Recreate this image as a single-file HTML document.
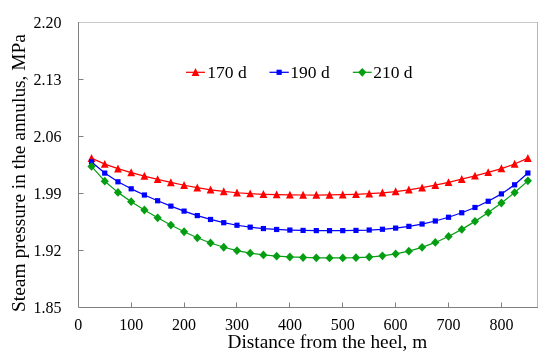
<!DOCTYPE html><html><head><meta charset="utf-8"><style>html,body{margin:0;padding:0;background:#fff;}svg{display:block;}text{font-family:"Liberation Serif","Times New Roman",serif;fill:#000;}</style></head><body>
<svg width="550" height="357" viewBox="0 0 550 357">
<rect width="550" height="357" fill="#fff"/>
<path d="M78.5 22.5H537.5" fill="none" stroke="#c8c8c8" stroke-width="1"/>
<path d="M537.5 22.0V307.5" fill="none" stroke="#b4b4b4" stroke-width="1"/>
<path d="M78.5 22.0V307.5H538.0" fill="none" stroke="#808080" stroke-width="1"/>
<text x="61.5" y="27.6" font-size="16" text-anchor="end">2.20</text>
<path d="M78.5 79.5H83.5" stroke="#808080" stroke-width="1"/>
<text x="61.5" y="84.6" font-size="16" text-anchor="end">2.13</text>
<path d="M78.5 136.5H83.5" stroke="#808080" stroke-width="1"/>
<text x="61.5" y="141.6" font-size="16" text-anchor="end">2.06</text>
<path d="M78.5 193.5H83.5" stroke="#808080" stroke-width="1"/>
<text x="61.5" y="198.6" font-size="16" text-anchor="end">1.99</text>
<path d="M78.5 250.5H83.5" stroke="#808080" stroke-width="1"/>
<text x="61.5" y="255.6" font-size="16" text-anchor="end">1.92</text>
<text x="61.5" y="312.6" font-size="16" text-anchor="end">1.85</text>
<text x="78.3" y="329.6" font-size="16" text-anchor="middle">0</text>
<path d="M131.5 307.5V302.5" stroke="#808080" stroke-width="1"/>
<text x="131.2" y="329.6" font-size="16" text-anchor="middle">100</text>
<path d="M184.5 307.5V302.5" stroke="#808080" stroke-width="1"/>
<text x="184.1" y="329.6" font-size="16" text-anchor="middle">200</text>
<path d="M236.5 307.5V302.5" stroke="#808080" stroke-width="1"/>
<text x="237.0" y="329.6" font-size="16" text-anchor="middle">300</text>
<path d="M289.5 307.5V302.5" stroke="#808080" stroke-width="1"/>
<text x="289.9" y="329.6" font-size="16" text-anchor="middle">400</text>
<path d="M342.5 307.5V302.5" stroke="#808080" stroke-width="1"/>
<text x="342.8" y="329.6" font-size="16" text-anchor="middle">500</text>
<path d="M395.5 307.5V302.5" stroke="#808080" stroke-width="1"/>
<text x="395.6" y="329.6" font-size="16" text-anchor="middle">600</text>
<path d="M448.5 307.5V302.5" stroke="#808080" stroke-width="1"/>
<text x="448.5" y="329.6" font-size="16" text-anchor="middle">700</text>
<path d="M501.5 307.5V302.5" stroke="#808080" stroke-width="1"/>
<text x="501.4" y="329.6" font-size="16" text-anchor="middle">800</text>
<text x="227.5" y="348.4" font-size="19.3">Distance from the heel, m</text>
<text transform="translate(24.5,173) rotate(-90)" font-size="19.4" text-anchor="middle">Steam pressure in the annulus, MPa</text>
<polyline points="91.52,158.18 104.75,164.13 117.97,168.68 131.19,172.53 144.41,176.05 157.63,179.35 170.86,182.44 184.08,185.26 197.30,187.73 210.53,189.81 223.75,191.48 236.97,192.75 250.19,193.67 263.42,194.29 276.64,194.67 289.86,194.90 303.08,195.00 316.31,195.02 329.53,194.94 342.75,194.73 355.97,194.35 369.20,193.74 382.42,192.81 395.64,191.52 408.86,189.82 422.09,187.71 435.31,185.19 448.53,182.34 461.75,179.22 474.98,175.90 488.20,172.38 501.42,168.55 514.64,164.05 527.87,158.18" fill="none" stroke="#ff0000" stroke-width="1.25" stroke-linejoin="round"/>
<path d="M91.52 153.98L95.42 161.88L87.62 161.88Z" fill="#ff0000"/><path d="M104.75 159.93L108.65 167.83L100.84 167.83Z" fill="#ff0000"/><path d="M117.97 164.48L121.87 172.38L114.07 172.38Z" fill="#ff0000"/><path d="M131.19 168.33L135.09 176.23L127.29 176.23Z" fill="#ff0000"/><path d="M144.41 171.85L148.31 179.75L140.51 179.75Z" fill="#ff0000"/><path d="M157.63 175.15L161.53 183.05L153.73 183.05Z" fill="#ff0000"/><path d="M170.86 178.24L174.76 186.14L166.96 186.14Z" fill="#ff0000"/><path d="M184.08 181.06L187.98 188.96L180.18 188.96Z" fill="#ff0000"/><path d="M197.30 183.53L201.20 191.43L193.40 191.43Z" fill="#ff0000"/><path d="M210.53 185.61L214.43 193.51L206.63 193.51Z" fill="#ff0000"/><path d="M223.75 187.28L227.65 195.18L219.85 195.18Z" fill="#ff0000"/><path d="M236.97 188.55L240.87 196.45L233.07 196.45Z" fill="#ff0000"/><path d="M250.19 189.47L254.09 197.37L246.29 197.37Z" fill="#ff0000"/><path d="M263.42 190.09L267.31 197.99L259.52 197.99Z" fill="#ff0000"/><path d="M276.64 190.47L280.54 198.37L272.74 198.37Z" fill="#ff0000"/><path d="M289.86 190.70L293.76 198.60L285.96 198.60Z" fill="#ff0000"/><path d="M303.08 190.80L306.98 198.70L299.18 198.70Z" fill="#ff0000"/><path d="M316.31 190.82L320.20 198.72L312.41 198.72Z" fill="#ff0000"/><path d="M329.53 190.74L333.43 198.64L325.63 198.64Z" fill="#ff0000"/><path d="M342.75 190.53L346.65 198.43L338.85 198.43Z" fill="#ff0000"/><path d="M355.97 190.15L359.87 198.05L352.07 198.05Z" fill="#ff0000"/><path d="M369.20 189.54L373.10 197.44L365.30 197.44Z" fill="#ff0000"/><path d="M382.42 188.61L386.32 196.51L378.52 196.51Z" fill="#ff0000"/><path d="M395.64 187.32L399.54 195.22L391.74 195.22Z" fill="#ff0000"/><path d="M408.86 185.62L412.76 193.52L404.96 193.52Z" fill="#ff0000"/><path d="M422.09 183.51L425.99 191.41L418.19 191.41Z" fill="#ff0000"/><path d="M435.31 180.99L439.21 188.89L431.41 188.89Z" fill="#ff0000"/><path d="M448.53 178.14L452.43 186.04L444.63 186.04Z" fill="#ff0000"/><path d="M461.75 175.02L465.65 182.92L457.85 182.92Z" fill="#ff0000"/><path d="M474.98 171.70L478.88 179.60L471.08 179.60Z" fill="#ff0000"/><path d="M488.20 168.18L492.10 176.08L484.30 176.08Z" fill="#ff0000"/><path d="M501.42 164.35L505.32 172.25L497.52 172.25Z" fill="#ff0000"/><path d="M514.64 159.85L518.54 167.75L510.74 167.75Z" fill="#ff0000"/><path d="M527.87 153.98L531.76 161.88L523.97 161.88Z" fill="#ff0000"/>
<polyline points="91.52,161.90 104.75,173.10 117.97,181.78 131.19,188.81 144.41,195.01 157.63,200.75 170.86,206.13 184.08,211.11 197.30,215.59 210.53,219.47 223.75,222.70 236.97,225.25 250.19,227.17 263.42,228.55 276.64,229.47 289.86,230.06 303.08,230.41 316.31,230.60 329.53,230.67 342.75,230.63 355.97,230.43 369.20,230.01 382.42,229.26 395.64,228.08 408.86,226.36 422.09,224.02 435.31,221.00 448.53,217.25 461.75,212.76 474.98,207.47 488.20,201.28 501.42,193.91 514.64,184.81 527.87,173.02" fill="none" stroke="#0000ff" stroke-width="1.25" stroke-linejoin="round"/>
<rect x="88.92" y="159.30" width="5.20" height="5.20" fill="#0000ff"/><rect x="102.15" y="170.50" width="5.20" height="5.20" fill="#0000ff"/><rect x="115.37" y="179.18" width="5.20" height="5.20" fill="#0000ff"/><rect x="128.59" y="186.21" width="5.20" height="5.20" fill="#0000ff"/><rect x="141.81" y="192.41" width="5.20" height="5.20" fill="#0000ff"/><rect x="155.03" y="198.15" width="5.20" height="5.20" fill="#0000ff"/><rect x="168.26" y="203.53" width="5.20" height="5.20" fill="#0000ff"/><rect x="181.48" y="208.51" width="5.20" height="5.20" fill="#0000ff"/><rect x="194.70" y="212.99" width="5.20" height="5.20" fill="#0000ff"/><rect x="207.93" y="216.87" width="5.20" height="5.20" fill="#0000ff"/><rect x="221.15" y="220.10" width="5.20" height="5.20" fill="#0000ff"/><rect x="234.37" y="222.65" width="5.20" height="5.20" fill="#0000ff"/><rect x="247.59" y="224.57" width="5.20" height="5.20" fill="#0000ff"/><rect x="260.81" y="225.95" width="5.20" height="5.20" fill="#0000ff"/><rect x="274.04" y="226.87" width="5.20" height="5.20" fill="#0000ff"/><rect x="287.26" y="227.46" width="5.20" height="5.20" fill="#0000ff"/><rect x="300.48" y="227.81" width="5.20" height="5.20" fill="#0000ff"/><rect x="313.70" y="228.00" width="5.20" height="5.20" fill="#0000ff"/><rect x="326.93" y="228.07" width="5.20" height="5.20" fill="#0000ff"/><rect x="340.15" y="228.03" width="5.20" height="5.20" fill="#0000ff"/><rect x="353.37" y="227.83" width="5.20" height="5.20" fill="#0000ff"/><rect x="366.60" y="227.41" width="5.20" height="5.20" fill="#0000ff"/><rect x="379.82" y="226.66" width="5.20" height="5.20" fill="#0000ff"/><rect x="393.04" y="225.48" width="5.20" height="5.20" fill="#0000ff"/><rect x="406.26" y="223.76" width="5.20" height="5.20" fill="#0000ff"/><rect x="419.49" y="221.42" width="5.20" height="5.20" fill="#0000ff"/><rect x="432.71" y="218.40" width="5.20" height="5.20" fill="#0000ff"/><rect x="445.93" y="214.65" width="5.20" height="5.20" fill="#0000ff"/><rect x="459.15" y="210.16" width="5.20" height="5.20" fill="#0000ff"/><rect x="472.38" y="204.87" width="5.20" height="5.20" fill="#0000ff"/><rect x="485.60" y="198.68" width="5.20" height="5.20" fill="#0000ff"/><rect x="498.82" y="191.31" width="5.20" height="5.20" fill="#0000ff"/><rect x="512.04" y="182.21" width="5.20" height="5.20" fill="#0000ff"/><rect x="525.26" y="170.42" width="5.20" height="5.20" fill="#0000ff"/>
<polyline points="91.52,166.40 104.75,181.15 117.97,192.38 131.19,201.69 144.41,210.01 157.63,217.78 170.86,225.06 184.08,231.77 197.30,237.79 210.53,242.97 223.75,247.25 236.97,250.63 250.19,253.16 263.42,254.97 276.64,256.19 289.86,256.99 303.08,257.49 316.31,257.79 329.53,257.94 342.75,257.92 355.97,257.65 369.20,257.01 382.42,255.83 395.64,253.94 408.86,251.16 422.09,247.36 435.31,242.46 448.53,236.45 461.75,229.38 474.98,221.37 488.20,212.55 501.42,202.98 514.64,192.57 527.87,180.87" fill="none" stroke="#059e12" stroke-width="1.25" stroke-linejoin="round"/>
<path d="M91.52 162.00L95.62 166.40L91.52 170.80L87.42 166.40Z" fill="#059e12"/><path d="M104.75 176.75L108.84 181.15L104.75 185.55L100.65 181.15Z" fill="#059e12"/><path d="M117.97 187.98L122.07 192.38L117.97 196.78L113.87 192.38Z" fill="#059e12"/><path d="M131.19 197.29L135.29 201.69L131.19 206.09L127.09 201.69Z" fill="#059e12"/><path d="M144.41 205.61L148.51 210.01L144.41 214.41L140.31 210.01Z" fill="#059e12"/><path d="M157.63 213.38L161.73 217.78L157.63 222.18L153.53 217.78Z" fill="#059e12"/><path d="M170.86 220.66L174.96 225.06L170.86 229.46L166.76 225.06Z" fill="#059e12"/><path d="M184.08 227.37L188.18 231.77L184.08 236.17L179.98 231.77Z" fill="#059e12"/><path d="M197.30 233.39L201.40 237.79L197.30 242.19L193.20 237.79Z" fill="#059e12"/><path d="M210.53 238.57L214.63 242.97L210.53 247.37L206.43 242.97Z" fill="#059e12"/><path d="M223.75 242.85L227.85 247.25L223.75 251.65L219.65 247.25Z" fill="#059e12"/><path d="M236.97 246.23L241.07 250.63L236.97 255.03L232.87 250.63Z" fill="#059e12"/><path d="M250.19 248.76L254.29 253.16L250.19 257.56L246.09 253.16Z" fill="#059e12"/><path d="M263.42 250.57L267.52 254.97L263.42 259.37L259.31 254.97Z" fill="#059e12"/><path d="M276.64 251.79L280.74 256.19L276.64 260.59L272.54 256.19Z" fill="#059e12"/><path d="M289.86 252.59L293.96 256.99L289.86 261.39L285.76 256.99Z" fill="#059e12"/><path d="M303.08 253.09L307.18 257.49L303.08 261.89L298.98 257.49Z" fill="#059e12"/><path d="M316.31 253.39L320.41 257.79L316.31 262.19L312.20 257.79Z" fill="#059e12"/><path d="M329.53 253.54L333.63 257.94L329.53 262.34L325.43 257.94Z" fill="#059e12"/><path d="M342.75 253.52L346.85 257.92L342.75 262.32L338.65 257.92Z" fill="#059e12"/><path d="M355.97 253.25L360.07 257.65L355.97 262.05L351.87 257.65Z" fill="#059e12"/><path d="M369.20 252.61L373.30 257.01L369.20 261.41L365.10 257.01Z" fill="#059e12"/><path d="M382.42 251.43L386.52 255.83L382.42 260.23L378.32 255.83Z" fill="#059e12"/><path d="M395.64 249.54L399.74 253.94L395.64 258.34L391.54 253.94Z" fill="#059e12"/><path d="M408.86 246.76L412.96 251.16L408.86 255.56L404.76 251.16Z" fill="#059e12"/><path d="M422.09 242.96L426.19 247.36L422.09 251.76L417.99 247.36Z" fill="#059e12"/><path d="M435.31 238.06L439.41 242.46L435.31 246.86L431.21 242.46Z" fill="#059e12"/><path d="M448.53 232.05L452.63 236.45L448.53 240.85L444.43 236.45Z" fill="#059e12"/><path d="M461.75 224.98L465.85 229.38L461.75 233.78L457.65 229.38Z" fill="#059e12"/><path d="M474.98 216.97L479.08 221.37L474.98 225.77L470.88 221.37Z" fill="#059e12"/><path d="M488.20 208.15L492.30 212.55L488.20 216.95L484.10 212.55Z" fill="#059e12"/><path d="M501.42 198.58L505.52 202.98L501.42 207.38L497.32 202.98Z" fill="#059e12"/><path d="M514.64 188.17L518.74 192.57L514.64 196.97L510.54 192.57Z" fill="#059e12"/><path d="M527.87 176.47L531.97 180.87L527.87 185.27L523.76 180.87Z" fill="#059e12"/>
<path d="M186 72.3H205" stroke="#ff0000" stroke-width="1.25"/>
<path d="M195.50 68.10L199.40 76.00L191.60 76.00Z" fill="#ff0000"/>
<text x="207.3" y="77.8" font-size="17.5">170 d</text>
<path d="M269.5 72.3H288.8" stroke="#0000ff" stroke-width="1.25"/>
<rect x="276.55" y="69.70" width="5.20" height="5.20" fill="#0000ff"/>
<text x="290.3" y="77.8" font-size="17.5">190 d</text>
<path d="M352.8 72.3H371.7" stroke="#059e12" stroke-width="1.25"/>
<path d="M362.25 67.90L366.35 72.30L362.25 76.70L358.15 72.30Z" fill="#059e12"/>
<text x="373.2" y="77.8" font-size="17.5">210 d</text>
</svg></body></html>
